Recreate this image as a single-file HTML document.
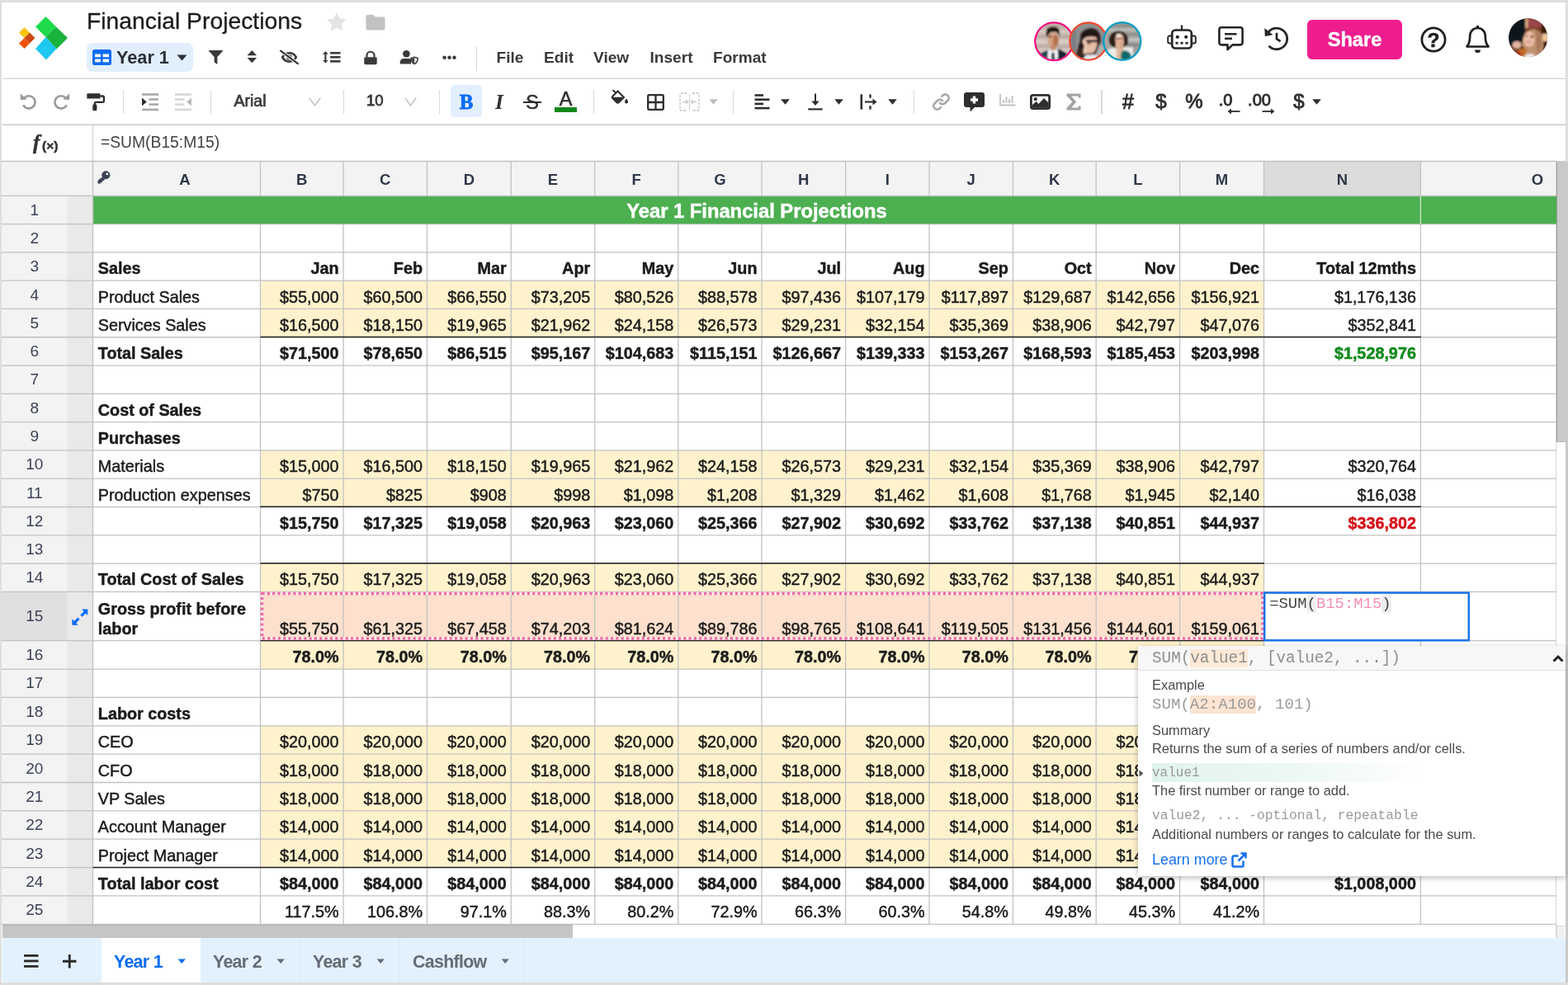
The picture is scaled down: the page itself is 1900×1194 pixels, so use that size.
<!DOCTYPE html>
<html lang="en"><head><meta charset="utf-8"><title>Financial Projections</title>
<style>
html,body{margin:0;padding:0}
body{width:1900px;height:1194px;overflow:hidden;background:#dedede;position:relative;
 font-family:"Liberation Sans",sans-serif;color:#1b1b1b}
.a{position:absolute}
.t{position:absolute;white-space:nowrap;line-height:1}
.b{font-weight:bold}
svg{position:absolute;overflow:visible}
.sep{position:absolute;width:1px;background:#d9d9d9}
.menu{position:absolute;top:60px;font-size:19.100px;font-weight:bold;color:#3a3a3a;line-height:20px;white-space:nowrap}
.c{position:absolute;font-size:19.800px;line-height:22px;white-space:nowrap;-webkit-text-stroke:0.450px currentColor}
.r{text-align:right}
.hl{position:absolute;height:1px;background:#c6c6c6}
.vl{position:absolute;width:1px;background:#c6c6c6}
.rn{position:absolute;left:2.800px;width:78px;text-align:center;font-size:19px;color:#3b4256;line-height:22px}
.ch{position:absolute;top:206.500px;text-align:center;font-size:18.5px;font-weight:bold;color:#2f3749;line-height:22px}
.tab{position:absolute;top:1153.500px;font-size:21.400px;font-weight:bold;color:#5f6670;line-height:24px;white-space:nowrap;letter-spacing:-0.700px}
.mono{font-family:"Liberation Mono","DejaVu Sans Mono",monospace}
</style></head><body>
<div class="a" style="left:2px;top:3px;width:1895px;height:1188px;background:#fff"></div>

<svg style="left:0;top:0" width="1900" height="200" viewBox="0 0 1900 200"><line x1="3" x2="1897" y1="95.300" y2="95.300" stroke="#d9d9d9" stroke-width="1.400"/><line x1="3" x2="1897" y1="151.200" y2="151.200" stroke="#cacaca" stroke-width="1.500"/></svg>
<svg style="left:20px;top:18px" width="66" height="58" viewBox="0 0 66 58">
<polygon points="35.5,2 48,14.5 35.5,27 23,14.5" fill="#1fdb4c"/>
<polygon points="48,14.5 62,28 48.5,41.5 35.5,27" fill="#19b23c"/>
<polygon points="35.5,27 48.5,41 36,54.5 23,41" fill="#1ec8f0"/>
<polygon points="9.5,15 16,21.5 9.5,28 3,21.5" fill="#f8c40e"/>
<polygon points="16,21.5 22.5,28 16,34.5 9.5,28" fill="#c84a12"/>
<polygon points="9.5,28 16,34.5 9.5,41 3,34.5" fill="#f0520f"/>
</svg>
<div class="t" style="left:105px;top:9px;font-size:28.300px;line-height:32px;color:#1c1c1c;-webkit-text-stroke:0.300px #1c1c1c">Financial Projections</div>
<svg style="left:395px;top:14px" width="26" height="25" viewBox="0 0 24 23"><path d="M12 0.8l3.3 7 7.6 1-5.6 5.3 1.4 7.6L12 18l-6.7 3.7 1.4-7.6L1.1 8.8l7.6-1z" fill="#e4e4e4"/></svg>
<svg style="left:442.500px;top:17.500px" width="24" height="18.500" viewBox="0 0 25 20"><path d="M2.5 0h7l2.6 2.8h10.4A2.5 2.5 0 0 1 25 5.3v12.2A2.5 2.5 0 0 1 22.5 20h-20A2.5 2.5 0 0 1 0 17.5v-15A2.5 2.5 0 0 1 2.500 0z" fill="#c1c1c1"/></svg>
<div class="a" style="left:105px;top:52px;width:129px;height:35px;border-radius:7px;background:#e1effd"></div>
<svg style="left:112px;top:60px" width="23" height="19" viewBox="0 0 23 19"><rect x="0" y="0" width="23" height="19" rx="2.5" fill="#0b6cf5"/>
<rect x="3" y="5.5" width="7" height="3.7" fill="#fff"/><rect x="12.6" y="5.5" width="7.4" height="3.7" fill="#fff"/>
<rect x="3" y="11.6" width="7" height="3.7" fill="#fff"/><rect x="12.6" y="11.6" width="7.400" height="3.7" fill="#fff"/></svg>
<div class="t b" style="left:141px;top:57.500px;font-size:21.700px;line-height:24px;color:#2b2f36">Year 1</div>
<svg style="left:214px;top:66px" width="13" height="8" viewBox="0 0 13 8"><path d="M0.5 0.5h12L6.5 7.5z" fill="#2b2f36"/></svg>
<svg style="left:252.700px;top:60.500px" width="17" height="16.800" viewBox="0 0 18 17" preserveAspectRatio="none"><path d="M0.6 0h16.8c.6 0 .8.6.4 1L11 8v8.2c0 .6-.6.9-1 .6l-2.600-2c-.3-.2-.4-.4-.4-.7V8L.2 1C-.2.600 0 0 .6 0z" fill="#3a3a3a"/></svg>
<svg style="left:299px;top:60.500px" width="12.600" height="15.800" viewBox="0 0 13 17" preserveAspectRatio="none"><path d="M6.5 0l6 6.700h-12zM6.500 16.500l6-6.700h-12z" fill="#3a3a3a"/></svg>
<svg style="left:339.300px;top:60.800px" width="23" height="16.800" viewBox="0 0 25 19" preserveAspectRatio="none">
<path d="M3.500 9.500C5.500 5.400 8.700 3.600 12.500 3.600s7 1.800 9 5.900c-2 4.100-5.200 5.900-9 5.900s-7-1.800-9-5.900z" fill="none" stroke="#3a3a3a" stroke-width="2.900"/>
<circle cx="12.500" cy="9.500" r="3.600" fill="#3a3a3a"/>
<path d="M1.200 0.800L23.800 18.200" stroke="#fff" stroke-width="4.600"/>
<path d="M1.200 0.800L23.800 18.200" stroke="#3a3a3a" stroke-width="2.600" stroke-linecap="round"/>
</svg>
<svg style="left:390.500px;top:62.200px" width="22" height="14.500" viewBox="0 0 23 16" preserveAspectRatio="none">
<path d="M3.500 0L7 4H4.600v8H7l-3.500 4L0 12h2.400V4H0z" fill="#3a3a3a"/>
<rect x="9.500" y="1" width="13" height="2.900" fill="#3a3a3a"/><rect x="9.500" y="6.600" width="13" height="2.900" fill="#3a3a3a"/><rect x="9.500" y="12.200" width="13" height="2.900" fill="#3a3a3a"/></svg>
<svg style="left:441px;top:61.500px" width="16" height="16.500" viewBox="0 0 17 18" preserveAspectRatio="none">
<path d="M3.700 8V5.600a4.800 4.800 0 0 1 9.600 0V8" fill="none" stroke="#3a3a3a" stroke-width="2.400"/>
<rect x="0.300" y="7.800" width="16.400" height="10" rx="1.600" fill="#3a3a3a"/></svg>
<svg style="left:484.400px;top:61.200px" width="23.200" height="16.800" viewBox="0 0 24 18" preserveAspectRatio="none">
<circle cx="8.700" cy="4.600" r="4.500" fill="#3a3a3a"/>
<path d="M0.800 17.600v-2.400c0-2.600 2-4.400 4.500-4.400h6.500c1 0 1.900.3 2.700.9v5.900z" fill="#3a3a3a"/>
<path d="M18.800 8.800l4.200 1.400c0 3.600-1.300 6.100-4.200 7.400-2.900-1.300-4.200-3.800-4.200-7.400z" fill="#fff" stroke="#3a3a3a" stroke-width="1.700"/>
<path d="M18.800 9.700v7c-2.200-1.100-3.300-3.100-3.300-5.800z" fill="#3a3a3a"/>
</svg>
<svg style="left:536.300px;top:66.500px" width="17" height="5.500" viewBox="0 0 18 6" preserveAspectRatio="none"><circle cx="2.700" cy="3" r="2.400" fill="#3a3a3a"/><circle cx="9" cy="3" r="2.400" fill="#3a3a3a"/><circle cx="15.300" cy="3" r="2.400" fill="#3a3a3a"/></svg>
<div class="sep" style="left:577px;top:56px;height:30px"></div>
<div class="menu" style="left:601.5px">File</div>
<div class="menu" style="left:659px">Edit</div>
<div class="menu" style="left:719px">View</div>
<div class="menu" style="left:787.5px">Insert</div>
<div class="menu" style="left:864px">Format</div>
<svg style="left:1253px;top:26px" width="48.500" height="48.500" viewBox="0 0 48.500 48.500">
<defs><clipPath id="av1"><circle cx="24.250" cy="24.250" r="21.800"/></clipPath>
<filter id="bl" x="-20%" y="-20%" width="140%" height="140%"><feGaussianBlur stdDeviation="0.850"/></filter>
<filter id="bl3" x="-20%" y="-20%" width="140%" height="140%"><feGaussianBlur stdDeviation="0.500"/></filter></defs>
<circle cx="24.250" cy="24.250" r="24.100" fill="#f2087f"/>
<g clip-path="url(#av1)"><rect width="49" height="49" fill="#c9bbb2"/>
<g filter="url(#bl)">
<rect x="0" y="4" width="49" height="3.500" fill="#b8aaa2"/><rect x="0" y="11" width="49" height="3" fill="#d6cbc4"/>
<rect x="0" y="17" width="49" height="2.500" fill="#b3a398"/><rect x="0" y="22.500" width="49" height="4" fill="#d9cfc9"/>
<rect x="0" y="29" width="49" height="2.500" fill="#b9aaa1"/><rect x="0" y="33" width="49" height="3" fill="#d4c8c1"/>
<g transform="translate(-2.800,-2.300)"><path d="M8 49c1-7 4-9 12-12.500l6 3 6-4c7 2 12 6 13 13.500z" fill="#14222e"/>
<path d="M8 49c1-6 3-8 10-11.500l2 11.500z" fill="#1d4452"/>
<path d="M19.500 36l6 2 6-2.500 .500 13.500H19z" fill="#f2f4f8"/>
<path d="M24 40h3.300l.700 9h-4.600z" fill="#1c2b38"/>
<ellipse cx="26" cy="24.500" rx="6.800" ry="9" fill="#d6a184"/>
<ellipse cx="29" cy="25.500" rx="3.300" ry="7" fill="#b46f4b"/>
<rect x="23" y="31" width="6.500" height="6" fill="#c48a68"/>
<path d="M17.500 19c-1-7 2.500-10.500 8.500-10.500s9 4 7.500 12c-1-4-2.500-5.500-7-5.500-3.500 0-6 1-7 6z" fill="#1a1210"/>
<ellipse cx="22.500" cy="20.500" rx="2" ry="1.200" fill="#6b4a3a"/>
</g><rect x="6" y="44" width="38" height="5" fill="#14222e"/><rect x="17" y="44" width="11" height="5" fill="#f2f4f8"/><rect x="21.300" y="44" width="4" height="5" fill="#1c2b38"/>
</g></g></svg>
<svg style="left:1295px;top:26px" width="47.500" height="48" viewBox="0 0 47.500 47.500" preserveAspectRatio="none">
<defs><clipPath id="av2"><circle cx="23.750" cy="23.750" r="21.300"/></clipPath></defs>
<circle cx="23.750" cy="23.750" r="23.600" fill="#f5482c"/>
<g clip-path="url(#av2)"><rect width="48" height="48" fill="#8f8f90"/>
<g filter="url(#bl)">
<rect x="2" y="3" width="7" height="42" fill="#7d7f83"/>
<rect x="31" y="28" width="15" height="14" fill="#b3b1ae"/>
<path d="M9 48c-1-8 1-14 4-19 1-9 3-16 8-19 6-3.500 13-2 16 4 2 4 2 8 1 12l-4 10-6 12z" fill="#2b1d1c"/>
<path d="M18 20c3-2 9-2.500 14-1.500 2.500 1 3 6 2 11-1 5-4 9-8 10.500-4 0-7-2-8-6z" fill="#e6bea8"/>
<path d="M17 24.500c0-4 1-6 3-7l1.500 20-3.500 2z" fill="#f0cdb8"/>
<path d="M14 17c2-6 8-9 14-8 5 1 8 5 9 10-5-1.500-11-2-16 0-2 1-4 3-5 6z" fill="#241717"/>
<path d="M21 23.500h15" stroke="#2e2026" stroke-width="3"/>
<ellipse cx="24.500" cy="26.300" rx="2.200" ry="1.300" fill="#7a5240"/>
<path d="M12 27c2-1 5-1 6.500 0v6H12z" fill="#241615"/>
<path d="M9 48c-1-8 1-13 3-17l6 4c-1 4-1 8 0 13z" fill="#3b2520"/>
<path d="M17 48c1-5 3-8 7-9l9 1c2 2 3 5 3 8z" fill="#e9ebef"/>
<path d="M22 37.500c2 1 5 1 7-.500l-1 3h-5z" fill="#6e4630"/>
</g></g></svg>
<svg style="left:1335.700px;top:26px" width="47.500" height="48" viewBox="0 0 47.500 47.500" preserveAspectRatio="none">
<defs><clipPath id="av3"><circle cx="23.750" cy="23.750" r="21.300"/></clipPath></defs>
<circle cx="23.750" cy="23.750" r="23.700" fill="#0c9fc1"/>
<g clip-path="url(#av3)"><rect width="48" height="48" fill="#a7a6a1"/>
<g filter="url(#bl)">
<rect x="0" y="3" width="48" height="4" fill="#8f8e89"/><rect x="6" y="8.500" width="42" height="3" fill="#bcbbb6"/>
<rect x="28" y="14" width="20" height="3.500" fill="#8d8d8a"/><rect x="30" y="20" width="18" height="4" fill="#bfbfbd"/>
<rect x="30" y="26.500" width="18" height="3.500" fill="#85888a"/>
<path d="M6 48V34c4-2 10-3 16-3h14l3 3v14z" fill="#ebebe8"/>
<rect x="37" y="30" width="11" height="12" fill="#9b9b99"/>
<ellipse cx="19.500" cy="22" rx="11.500" ry="10.500" fill="#2a1a16"/>
<ellipse cx="26" cy="24" rx="5" ry="6" fill="#2e1d18"/>
<ellipse cx="20.500" cy="21.500" rx="5.200" ry="7" fill="#e0b39b"/>
<ellipse cx="19.500" cy="17" rx="3" ry="2.300" fill="#f3dccf"/>
<path d="M16.500 20.500h8" stroke="#5a3a30" stroke-width="1.200"/>
<path d="M16 24c3-2 8-2 10 0l-1 6c1 4 0 10-1 18h-7c0-8 0-13-1-17z" fill="#e2b59a"/>
<path d="M22 25c1 3 1 5-1 7" stroke="#b98366" stroke-width="1.200" fill="none"/>
<path d="M23 36c4-2 8-1 11 3l3 9H23c-1-4-1-8 0-12z" fill="#0e6b66"/>
</g></g></svg>
<svg style="left:1414px;top:30.300px" width="36" height="30" viewBox="0 0 36 30" fill="none" stroke="#262626" stroke-width="2.700">
<path d="M18 0.500v6" stroke-width="2.300"/>
<rect x="6.200" y="6.500" width="23.600" height="22" rx="4"/>
<path d="M5.500 13.500H3.200a2 2 0 0 0-2 2v5a2 2 0 0 0 2 2h2.300M30.500 13.500h2.300a2 2 0 0 1 2 2v5a2 2 0 0 1-2 2h-2.300" stroke-width="1.900"/>
<circle cx="12.800" cy="14.800" r="2.100" fill="#262626" stroke="none"/><circle cx="23.200" cy="14.800" r="2.100" fill="#262626" stroke="none"/>
<rect x="10.500" y="20.800" width="3" height="2.800" fill="#262626" stroke="none"/><rect x="16.500" y="20.800" width="3" height="2.800" fill="#262626" stroke="none"/><rect x="22.500" y="20.800" width="3" height="2.800" fill="#262626" stroke="none"/>
</svg>
<svg style="left:1476px;top:31.500px" width="31" height="30" viewBox="0 0 31 30" fill="none" stroke="#262626" stroke-width="2.600" stroke-linejoin="round">
<path d="M4 1.200h23a2.600 2.600 0 0 1 2.600 2.600v16a2.600 2.600 0 0 1-2.600 2.600H17.500L11.500 28v-5.600H4a2.600 2.600 0 0 1-2.600-2.600v-16A2.600 2.600 0 0 1 4 1.200z"/>
<path d="M8 9.300h14.500M8 14.800h9" stroke-width="2.600"/></svg>
<svg style="left:1532.300px;top:32px" width="30" height="30" viewBox="0 0 30 30" fill="none" stroke="#262626" stroke-width="2.800">
<path d="M3.800 8.600A12.800 12.800 0 1 1 5.500 23.600"/>
<path d="M0.300 2l0.500 10 9.600-1.700z" fill="#262626" stroke="none"/>
<path d="M15 7.800v7.400l4.600 3" stroke-width="2.700"/></svg>
<div class="a" style="left:1584px;top:24px;width:115px;height:48px;border-radius:6px;background:#ee1d8e"></div>
<div class="t b" style="left:1584px;top:35px;width:115px;text-align:center;font-size:23.600px;line-height:26px;color:#fff;-webkit-text-stroke:0.400px #fff">Share</div>
<svg style="left:1721px;top:32px" width="32" height="32" viewBox="0 0 32 32"><circle cx="16" cy="16" r="14.100" fill="none" stroke="#1f1f1f" stroke-width="2.800"/></svg>
<div class="t b" style="left:1721px;top:35.500px;width:32px;text-align:center;font-size:24.500px;line-height:26px;color:#1f1f1f;-webkit-text-stroke:0.600px #1f1f1f">?</div>
<svg style="left:1776px;top:29.500px" width="29" height="35" viewBox="0 0 29 35" fill="none" stroke="#1f1f1f" stroke-width="2.700" stroke-linejoin="round">
<path d="M14.500 1v3" stroke-width="3.200"/>
<path d="M1.500 26.500c3-3.500 3.700-6.500 3.700-12.500 0-6 4-10 9.300-10s9.300 4 9.300 10c0 6 .7 9 3.700 12.500z"/>
<path d="M11 30.500h7a3.500 3.500 0 0 1-7 0z" fill="#1f1f1f" stroke="none"/></svg>
<svg style="left:1828.300px;top:22.400px" width="47.400" height="47.400" viewBox="0 0 47.400 47.400">
<defs><clipPath id="av4"><circle cx="23.700" cy="23.700" r="23.500"/></clipPath><filter id="bl2" x="-20%" y="-20%" width="140%" height="140%"><feGaussianBlur stdDeviation="1.100"/></filter></defs>
<g clip-path="url(#av4)"><rect width="48" height="48" fill="#7a4028"/>
<g filter="url(#bl2)">
<rect x="-2" y="-2" width="22" height="36" fill="#0f181f"/>
<rect x="21" y="-2" width="22" height="13" fill="#9a4448"/>
<rect x="40" y="6" width="10" height="36" fill="#3a1a0c"/>
<rect x="41" y="19" width="8" height="9" fill="#efc59b"/>
<rect x="20.500" y="1" width="3" height="11" fill="#d9b28a"/>
<path d="M17 50c-2-10-2-22 3-31 3-5 9-7 14-5 6 3 8 10 8 18s-1 13-3 18z" fill="#c09270"/>
<path d="M33 14c4 2 7 8 7 16l-2 12-4-2z" fill="#a8775a"/>
<ellipse cx="25" cy="25.500" rx="6.800" ry="9.500" fill="#ebbca4"/>
<ellipse cx="28.500" cy="22.500" rx="2" ry="1.300" fill="#5a3320"/><ellipse cx="21.500" cy="21.500" rx="1.800" ry="1" fill="#8a5a40"/>
<ellipse cx="24" cy="29" rx="2.500" ry="1.200" fill="#d98f84"/>
<path d="M13 26c1 4 3 8 6 10l-2 3c-3-2-5-6-5-10z" fill="#40231a"/>
<ellipse cx="10" cy="32.500" rx="5.500" ry="4.500" fill="#e2b4a2"/>
<path d="M11 40c3-3 7-4 11-3l-2 8-8 1z" fill="#c26a22"/>
<path d="M10 42c2-1 4-1 5 1l-1 3h-4z" fill="#b01c10"/>
<path d="M18 50c1-5 4-7 8-7s7 2 8 7z" fill="#f2e6e0"/>
</g></g></svg>
<svg style="left:24px;top:112.300px" width="21" height="21" viewBox="0 0 21 21">
<path d="M5.300 6.800A7.600 7.600 0 1 1 4.200 15.300" fill="none" stroke="#9b9b9b" stroke-width="2.700"/>
<path d="M0.600 1.200L1 9.200 8.600 8.400z" fill="#9b9b9b"/></svg>
<svg style="left:63.500px;top:112.300px" width="21" height="21" viewBox="0 0 21 21">
<path d="M15.700 6.800A7.600 7.600 0 1 0 16.800 15.300" fill="none" stroke="#9b9b9b" stroke-width="2.700"/>
<path d="M20.400 1.200L20 9.200 12.400 8.400z" fill="#9b9b9b"/></svg>
<svg style="left:105px;top:112.500px" width="23" height="22" viewBox="0 0 23 22">
<rect x="0.300" y="0.300" width="16.200" height="6.300" rx="1.200" fill="#2e2e2e"/>
<path d="M16.500 3.500h2.800a1.600 1.600 0 0 1 1.600 1.600v4.100a1.600 1.600 0 0 1-1.600 1.600h-7.900a1.500 1.500 0 0 0-1.500 1.500v2" fill="none" stroke="#2e2e2e" stroke-width="2.300"/>
<rect x="7.300" y="13.300" width="5.100" height="8" rx="1.600" fill="#2e2e2e"/></svg>
<div class="sep" style="left:149px;top:109px;height:29px"></div>
<svg style="left:172px;top:113px" width="21" height="21" viewBox="0 0 21 21">
<rect x="0" y="0.200" width="20" height="2.600" fill="#a8a8a8"/><rect x="0" y="18.600" width="20" height="2.600" fill="#a8a8a8"/>
<rect x="8.500" y="6.200" width="11.500" height="2.600" fill="#a8a8a8"/><rect x="8.500" y="12.300" width="11.500" height="2.600" fill="#a8a8a8"/>
<path d="M0 5.600l5.800 4.900-5.800 4.900z" fill="#2e2e2e"/></svg>
<svg style="left:212px;top:113px" width="21" height="21" viewBox="0 0 21 21">
<rect x="0" y="0.200" width="20" height="2.600" fill="#d6d6d6"/><rect x="0" y="18.600" width="20" height="2.600" fill="#d6d6d6"/>
<rect x="0" y="6.200" width="11.500" height="2.600" fill="#d6d6d6"/><rect x="0" y="12.300" width="11.500" height="2.600" fill="#d6d6d6"/>
<path d="M20 5.600l-5.800 4.900 5.800 4.900z" fill="#b8b8b8"/></svg>
<div class="sep" style="left:255px;top:109px;height:29px"></div>
<div class="t" style="left:283.500px;top:112px;font-size:19.500px;line-height:20px;color:#3a3a3a;-webkit-text-stroke:0.700px #3a3a3a">Arial</div>
<svg style="left:374px;top:118px" width="15" height="11" viewBox="0 0 15 11"><path d="M0.700 0.700l6.800 9 6.800-9" fill="none" stroke="#c4c4c4" stroke-width="1.500"/></svg>
<div class="sep" style="left:416px;top:109px;height:29px"></div>
<div class="t" style="left:444px;top:112px;font-size:18.600px;line-height:20px;color:#3a3a3a;-webkit-text-stroke:0.800px #3a3a3a">10</div>
<svg style="left:490px;top:118px" width="15" height="11" viewBox="0 0 15 11"><path d="M0.700 0.700l6.800 9 6.800-9" fill="none" stroke="#c4c4c4" stroke-width="1.500"/></svg>
<div class="sep" style="left:532px;top:109px;height:29px"></div>
<div class="a" style="left:546px;top:103px;width:38px;height:39px;border-radius:5px;background:#e2effd"></div>
<div class="t b" style="left:546px;top:111px;width:38px;text-align:center;font-family:'Liberation Serif',serif;font-size:25px;line-height:26px;color:#0b6cf5;-webkit-text-stroke:0.800px #0b6cf5">B</div>
<div class="t b" style="left:593px;top:111px;width:24px;text-align:center;font-family:'Liberation Serif',serif;font-style:italic;font-size:25.500px;line-height:26px;color:#2e2e2e">I</div>
<div class="t" style="left:633px;top:111px;width:24px;text-align:center;font-size:24px;line-height:26px;color:#2e2e2e;-webkit-text-stroke:0.400px #2e2e2e">S</div>
<div class="a" style="left:634px;top:122.500px;width:22px;height:2px;background:#2e2e2e"></div>
<div class="t" style="left:673px;top:107px;width:25px;text-align:center;font-size:23.500px;line-height:26px;color:#2e2e2e;-webkit-text-stroke:0.500px #2e2e2e">A</div>
<div class="a" style="left:672px;top:130px;width:27px;height:5.500px;background:#13881a"></div>
<div class="sep" style="left:719px;top:109px;height:29px"></div>
<svg style="left:740px;top:108px" width="22" height="19" viewBox="0 0 22 19">
<path d="M2.500 1l3.500 3.500" stroke="#2e2e2e" stroke-width="1.800" fill="none"/>
<path d="M8.500 2.500l7.500 7.500-6 6a2 2 0 0 1-2.800 0l-4.700-4.700a2 2 0 0 1 0-2.800z" fill="none" stroke="#2e2e2e" stroke-width="2"/>
<path d="M2.500 9.800h13l-5.800 5.800a2 2 0 0 1-2.800 0l-4.400-4.400z" fill="#2e2e2e"/>
<path d="M19 11.500c1.300 1.900 2 3 2 3.900a2 2 0 0 1-4 0c0-.9.700-2 2-3.900z" fill="#2e2e2e"/></svg>
<svg style="left:784px;top:114px" width="21" height="20" viewBox="0 0 21 20" fill="none" stroke="#2e2e2e" stroke-width="2.300">
<rect x="1.200" y="1.200" width="18.600" height="17.600" rx="1"/><path d="M10.500 1v18M1 10h19"/></svg>
<svg style="left:823px;top:112px" width="25" height="23" viewBox="0 0 25 23" fill="none" stroke="#bdbdbd" stroke-width="1.300">
<path d="M9 1H2.500A1.500 1.500 0 0 0 1 2.500v18A1.500 1.500 0 0 0 2.500 22H9M16 1h6.500A1.500 1.500 0 0 1 24 2.500v18a1.500 1.500 0 0 1-1.500 1.500H16" stroke-dasharray="3 1.500"/>
<path d="M12.500 1.500v20" stroke="#d4d4d4"/>
<path d="M4 11.500h6M8 9l2.500 2.500L8 14M21 11.500h-6M17 9l-2.500 2.500L17 14" stroke="#c9c9c9"/></svg>
<svg style="left:859px;top:120px" width="11" height="7" viewBox="0 0 11 7"><path d="M0.200 0.300h10.600L5.500 6.800z" fill="#bdbdbd"/></svg>
<div class="sep" style="left:888px;top:109px;height:29px"></div>
<svg style="left:914px;top:114px" width="19" height="19" viewBox="0 0 19 19">
<rect x="0.500" y="0.200" width="10.500" height="2.600" fill="#2e2e2e"/><rect x="0.500" y="5.400" width="18" height="2.600" fill="#2e2e2e"/>
<rect x="0.500" y="10.600" width="10.500" height="2.600" fill="#2e2e2e"/><rect x="0.500" y="15.800" width="18" height="2.600" fill="#2e2e2e"/></svg>
<svg style="left:946px;top:120px" width="11" height="7" viewBox="0 0 11 7"><path d="M0.200 0.300h10.600L5.500 6.800z" fill="#2e2e2e"/></svg>
<svg style="left:979px;top:113px" width="18" height="21" viewBox="0 0 18 21">
<path d="M9 0.500v13.500" stroke="#2e2e2e" stroke-width="2" fill="none"/><path d="M4.300 9.500L9 15l4.700-5.500z" fill="#2e2e2e"/>
<rect x="0.300" y="18.300" width="17.400" height="2.200" fill="#2e2e2e"/></svg>
<svg style="left:1011px;top:120px" width="11" height="7" viewBox="0 0 11 7"><path d="M0.200 0.300h10.600L5.500 6.800z" fill="#2e2e2e"/></svg>
<svg style="left:1042px;top:114px" width="21" height="19" viewBox="0 0 21 19">
<rect x="0.500" y="0.300" width="2.600" height="18.400" fill="#2e2e2e"/>
<rect x="11.300" y="0.300" width="2.400" height="4.500" fill="#2e2e2e"/><rect x="11.300" y="14.200" width="2.400" height="4.500" fill="#2e2e2e"/>
<path d="M6 9.500h12" stroke="#2e2e2e" stroke-width="2.100" fill="none"/><path d="M15.500 5.500l5 4-5 4z" fill="#2e2e2e"/></svg>
<svg style="left:1076px;top:120px" width="11" height="7" viewBox="0 0 11 7"><path d="M0.200 0.300h10.600L5.500 6.800z" fill="#2e2e2e"/></svg>
<div class="sep" style="left:1107px;top:109px;height:29px"></div>
<svg style="left:1130px;top:113px" width="21" height="21" viewBox="0 0 21 21" fill="none" stroke="#a9a9a9" stroke-width="2.700" stroke-linecap="round">
<path d="M9 12a4.300 4.300 0 0 0 6.100 0l3.300-3.300a4.300 4.300 0 0 0-6.100-6.100l-1.300 1.300"/>
<path d="M12 9a4.300 4.300 0 0 0-6.100 0l-3.300 3.300a4.300 4.300 0 0 0 6.100 6.100l1.300-1.300"/></svg>
<svg style="left:1168px;top:112px" width="25" height="24" viewBox="0 0 25 24">
<path d="M3 0h19a3 3 0 0 1 3 3v12a3 3 0 0 1-3 3H13l-5.500 5.500V18H3a3 3 0 0 1-3-3V3a3 3 0 0 1 3-3z" fill="#2e2e2e"/>
<path d="M12.500 4.500v9M8 9h9" stroke="#fff" stroke-width="3.400" fill="none"/></svg>
<svg style="left:1211px;top:114px" width="20" height="15" viewBox="0 0 20 15" fill="none" stroke="#c2c2c2">
<path d="M1 0v13.500h18.500" stroke-width="1.800"/><path d="M5 11V7M8.500 11V3.500M12 11V6M15.500 11V2" stroke-width="2"/></svg>
<svg style="left:1248px;top:114px" width="25" height="19" viewBox="0 0 25 19">
<rect x="1.400" y="1.400" width="22.200" height="16.200" rx="2" fill="none" stroke="#2e2e2e" stroke-width="2.800"/>
<circle cx="6.800" cy="6.200" r="2.100" fill="#2e2e2e"/><path d="M2.500 16.500v-3l5-4.500 3 3 6.500-7 5.500 5.500v6z" fill="#2e2e2e"/></svg>
<svg style="left:1292px;top:113px" width="18" height="21" viewBox="0 0 18 21"><path d="M0.500 0.500h17v5h-2.800V3.500H6.200l6 7-6 7h8.500v-2h2.800v5h-17v-2.500l6.800-7.500L0.500 3z" fill="#a3a3a3"/></svg>
<div class="sep" style="left:1334px;top:109px;height:29px;width:1.500px"></div>
<div class="t" style="left:1352px;top:110px;width:30px;text-align:center;font-size:25px;line-height:26px;color:#2e2e2e;-webkit-text-stroke:0.850px #2e2e2e;">#</div>
<div class="t" style="left:1392px;top:110px;width:30px;text-align:center;font-size:24px;line-height:26px;color:#2e2e2e;-webkit-text-stroke:0.850px #2e2e2e;">$</div>
<div class="t" style="left:1432px;top:110px;width:30px;text-align:center;font-size:24px;line-height:26px;color:#2e2e2e;-webkit-text-stroke:0.850px #2e2e2e;">%</div>
<div class="t" style="left:1474px;top:108px;width:22px;text-align:center;font-size:20px;line-height:26px;color:#2e2e2e;-webkit-text-stroke:0.850px #2e2e2e;">.0</div>
<svg style="left:1487px;top:131px" width="16" height="8" viewBox="0 0 16 8"><path d="M15.500 4H2" stroke="#2e2e2e" stroke-width="1.800" fill="none"/><path d="M5 0.500L0.500 4 5 7.500z" fill="#2e2e2e"/></svg>
<div class="t" style="left:1510px;top:108px;width:32px;text-align:center;font-size:20px;line-height:26px;color:#2e2e2e;-webkit-text-stroke:0.850px #2e2e2e;">.00</div>
<svg style="left:1529px;top:131px" width="16" height="8" viewBox="0 0 16 8"><path d="M0.500 4H14" stroke="#2e2e2e" stroke-width="1.800" fill="none"/><path d="M11 0.500L15.500 4 11 7.500z" fill="#2e2e2e"/></svg>
<div class="t" style="left:1559px;top:110px;width:30px;text-align:center;font-size:24px;line-height:26px;color:#2e2e2e;-webkit-text-stroke:0.850px #2e2e2e;">$</div>
<svg style="left:1590px;top:120px" width="11" height="7" viewBox="0 0 11 7"><path d="M0.200 0.300h10.600L5.500 6.800z" fill="#2e2e2e"/></svg>
<div class="a" style="left:3px;top:195px;width:1894px;height:1px;background:#c9c9c9"></div>
<div class="a" style="left:112px;top:152px;width:1px;height:44px;background:#cfcfcf"></div>
<div class="t b" style="left:40px;top:158.500px;font-family:'Liberation Serif',serif;font-style:italic;font-size:25px;line-height:28px;color:#333;-webkit-text-stroke:0.500px #333">f</div>
<div class="t b" style="left:51px;top:167.500px;font-size:15.500px;line-height:18px;color:#333;-webkit-text-stroke:0.500px #333">(×)</div>
<div class="t" style="left:122px;top:162px;font-size:19.300px;line-height:22px;color:#444">=SUM(B15:M15)</div>
<svg style="left:0;top:0" width="1900" height="1194" viewBox="0 0 1900 1194"><rect x="2" y="196" width="1884" height="41.3" fill="#f3f3f3"/><rect x="2" y="237.3" width="110.5" height="883" fill="#f3f3f3"/><rect x="81.5" y="237.3" width="31" height="883" fill="#e9e9e9"/><rect x="1531.5" y="196" width="189.9" height="41.3" fill="#dcdcdc"/><rect x="2" y="717.36" width="79.5" height="59.34" fill="#e0e0e0"/><rect x="315.5" y="340.17" width="1216" height="34.29" fill="#fff2cc"/><rect x="315.5" y="374.46" width="1216" height="34.29" fill="#fff2cc"/><rect x="315.5" y="545.91" width="1216" height="34.29" fill="#fff2cc"/><rect x="315.5" y="580.2" width="1216" height="34.29" fill="#fff2cc"/><rect x="315.5" y="683.07" width="1216" height="34.29" fill="#fff2cc"/><rect x="315.5" y="776.7" width="1216" height="34.36" fill="#fff2cc"/><rect x="315.5" y="879.78" width="1216" height="34.36" fill="#fff2cc"/><rect x="315.5" y="914.14" width="1216" height="34.36" fill="#fff2cc"/><rect x="315.5" y="948.5" width="1216" height="34.36" fill="#fff2cc"/><rect x="315.5" y="982.86" width="1216" height="34.36" fill="#fff2cc"/><rect x="315.5" y="1017.22" width="1216" height="34.36" fill="#fff2cc"/><rect x="315.5" y="717.36" width="1216" height="59.34" fill="#fde0cd"/><g stroke="#c2c2c2" stroke-width="1.3"><line x1="2" x2="1886" y1="195.500" y2="195.500"/><line x1="2" x2="1886" y1="237.3" y2="237.3"/><line x1="2" x2="1886" y1="271.59" y2="271.59"/><line x1="2" x2="1886" y1="305.88" y2="305.88"/><line x1="2" x2="1886" y1="340.17" y2="340.17"/><line x1="2" x2="1886" y1="374.46" y2="374.46"/><line x1="2" x2="1886" y1="408.75" y2="408.75"/><line x1="2" x2="1886" y1="443.04" y2="443.04"/><line x1="2" x2="1886" y1="477.33" y2="477.33"/><line x1="2" x2="1886" y1="511.62" y2="511.62"/><line x1="2" x2="1886" y1="545.91" y2="545.91"/><line x1="2" x2="1886" y1="580.2" y2="580.2"/><line x1="2" x2="1886" y1="614.49" y2="614.49"/><line x1="2" x2="1886" y1="648.78" y2="648.78"/><line x1="2" x2="1886" y1="683.07" y2="683.07"/><line x1="2" x2="1886" y1="717.36" y2="717.36"/><line x1="2" x2="1886" y1="776.7" y2="776.7"/><line x1="2" x2="1886" y1="811.06" y2="811.06"/><line x1="2" x2="1886" y1="845.42" y2="845.42"/><line x1="2" x2="1886" y1="879.78" y2="879.78"/><line x1="2" x2="1886" y1="914.14" y2="914.14"/><line x1="2" x2="1886" y1="948.5" y2="948.5"/><line x1="2" x2="1886" y1="982.86" y2="982.86"/><line x1="2" x2="1886" y1="1017.22" y2="1017.22"/><line x1="2" x2="1886" y1="1051.58" y2="1051.58"/><line x1="2" x2="1886" y1="1085.94" y2="1085.94"/><line x1="2" x2="1886" y1="1120.3" y2="1120.3"/><line x1="112.5" x2="112.5" y1="196" y2="1120.3"/><line x1="315.5" x2="315.5" y1="196" y2="1120.3"/><line x1="416.1" x2="416.1" y1="196" y2="1120.3"/><line x1="517.5" x2="517.5" y1="196" y2="1120.3"/><line x1="619.3" x2="619.3" y1="196" y2="1120.3"/><line x1="720.7" x2="720.7" y1="196" y2="1120.3"/><line x1="821.8" x2="821.8" y1="196" y2="1120.3"/><line x1="923" x2="923" y1="196" y2="1120.3"/><line x1="1024.6" x2="1024.6" y1="196" y2="1120.3"/><line x1="1126" x2="1126" y1="196" y2="1120.3"/><line x1="1227.4" x2="1227.4" y1="196" y2="1120.3"/><line x1="1328.2" x2="1328.2" y1="196" y2="1120.3"/><line x1="1429.6" x2="1429.6" y1="196" y2="1120.3"/><line x1="1531.5" x2="1531.5" y1="196" y2="1120.3"/><line x1="1721.4" x2="1721.4" y1="196" y2="1120.3"/><line x1="1886" x2="1886" y1="196" y2="1120.3"/></g><rect x="113.1" y="238.1" width="1772.9" height="33.19" fill="#4caf50"/><line x1="1721.4" x2="1721.4" y1="237.8" y2="271.19" stroke="#d5ecd6" stroke-width="1.200"/><line x1="315.5" x2="1722" y1="408.55" y2="408.55" stroke="#222" stroke-width="1.500"/><line x1="315.5" x2="1722" y1="614.29" y2="614.29" stroke="#222" stroke-width="1.500"/><line x1="315.5" x2="1532.1" y1="682.87" y2="682.87" stroke="#222" stroke-width="1.500"/><line x1="315.5" x2="1532.1" y1="776.5" y2="776.5" stroke="#222" stroke-width="1.500"/><line x1="112.5" x2="1532.1" y1="1051.38" y2="1051.38" stroke="#222" stroke-width="1.500"/></svg>
<div class="ch" style="left:132.5px;width:183px">A</div>
<div class="ch" style="left:315.5px;width:100.6px">B</div>
<div class="ch" style="left:416.1px;width:101.4px">C</div>
<div class="ch" style="left:517.5px;width:101.8px">D</div>
<div class="ch" style="left:619.3px;width:101.4px">E</div>
<div class="ch" style="left:720.7px;width:101.1px">F</div>
<div class="ch" style="left:821.8px;width:101.2px">G</div>
<div class="ch" style="left:923px;width:101.6px">H</div>
<div class="ch" style="left:1024.6px;width:101.4px">I</div>
<div class="ch" style="left:1126px;width:101.4px">J</div>
<div class="ch" style="left:1227.4px;width:100.8px">K</div>
<div class="ch" style="left:1328.2px;width:101.4px">L</div>
<div class="ch" style="left:1429.6px;width:101.9px">M</div>
<div class="ch" style="left:1531.5px;width:189.9px">N</div>
<div class="ch" style="left:1840px;width:46px">O</div>
<svg style="left:118px;top:207px" width="16" height="16" viewBox="0 0 16 16"><g fill="#3b4256">
<circle cx="10.300" cy="5.300" r="5"/><path d="M6 7.500l3 3-1.500 1.500H6v2H4v1.500H0.500V12z"/></g><circle cx="11.800" cy="3.900" r="1.400" fill="#f3f3f3"/></svg>
<div class="rn" style="top:243.65px">1</div>
<div class="rn" style="top:277.94px">2</div>
<div class="rn" style="top:312.22px">3</div>
<div class="rn" style="top:346.52px">4</div>
<div class="rn" style="top:380.81px">5</div>
<div class="rn" style="top:415.09px">6</div>
<div class="rn" style="top:449.39px">7</div>
<div class="rn" style="top:483.68px">8</div>
<div class="rn" style="top:517.97px">9</div>
<div class="rn" style="top:552.26px">10</div>
<div class="rn" style="top:586.55px">11</div>
<div class="rn" style="top:620.84px">12</div>
<div class="rn" style="top:655.12px">13</div>
<div class="rn" style="top:689.41px">14</div>
<div class="rn" style="top:736.23px">15</div>
<div class="rn" style="top:783.08px">16</div>
<div class="rn" style="top:817.44px">17</div>
<div class="rn" style="top:851.8px">18</div>
<div class="rn" style="top:886.16px">19</div>
<div class="rn" style="top:920.52px">20</div>
<div class="rn" style="top:954.88px">21</div>
<div class="rn" style="top:989.24px">22</div>
<div class="rn" style="top:1023.6px">23</div>
<div class="rn" style="top:1057.96px">24</div>
<div class="rn" style="top:1092.32px">25</div>
<svg style="left:87px;top:738px" width="20" height="20" viewBox="0 0 20 20"><g fill="#0b6cf5">
<path d="M19.300 0.600V8L12 0.600z"/><path d="M0.400 19.700V12.300L7.700 19.700z"/>
<path d="M16.200 3.800L11.400 8.600M3.600 16.500L8.400 11.700" stroke="#0b6cf5" stroke-width="3.200" fill="none"/></g></svg>
<div class="c b" style="left:112.5px;width:1608.9px;top:242.8px;text-align:center;font-size:23.750px;line-height:26px;color:#fff">Year 1 Financial Projections</div>
<div class="c b" style="top:314.27px;left:118.8px;">Sales</div>
<div class="c" style="top:348.56px;left:118.8px;">Product Sales</div>
<div class="c" style="top:382.85px;left:118.8px;">Services Sales</div>
<div class="c b" style="top:417.14px;left:118.8px;">Total Sales</div>
<div class="c b" style="top:485.72px;left:118.8px;">Cost of Sales</div>
<div class="c b" style="top:520.01px;left:118.8px;">Purchases</div>
<div class="c" style="top:554.3px;left:118.8px;">Materials</div>
<div class="c" style="top:588.59px;left:118.8px;">Production expenses</div>
<div class="c b" style="top:691.46px;left:118.8px;">Total Cost of Sales</div>
<div class="c b" style="top:853.88px;left:118.8px;">Labor costs</div>
<div class="c" style="top:888.24px;left:118.8px;">CEO</div>
<div class="c" style="top:922.6px;left:118.8px;">CFO</div>
<div class="c" style="top:956.96px;left:118.8px;">VP Sales</div>
<div class="c" style="top:991.32px;left:118.8px;">Account Manager</div>
<div class="c" style="top:1025.68px;left:118.8px;">Project Manager</div>
<div class="c b" style="top:1060.04px;left:118.8px;">Total labor cost</div>
<div class="c b" style="top:314.27px;left:315.5px;width:95.1px;text-align:right;">Jan</div>
<div class="c b" style="top:314.27px;left:416.1px;width:95.9px;text-align:right;">Feb</div>
<div class="c b" style="top:314.27px;left:517.5px;width:96.3px;text-align:right;">Mar</div>
<div class="c b" style="top:314.27px;left:619.3px;width:95.9px;text-align:right;">Apr</div>
<div class="c b" style="top:314.27px;left:720.7px;width:95.6px;text-align:right;">May</div>
<div class="c b" style="top:314.27px;left:821.8px;width:95.7px;text-align:right;">Jun</div>
<div class="c b" style="top:314.27px;left:923px;width:96.1px;text-align:right;">Jul</div>
<div class="c b" style="top:314.27px;left:1024.6px;width:95.9px;text-align:right;">Aug</div>
<div class="c b" style="top:314.27px;left:1126px;width:95.9px;text-align:right;">Sep</div>
<div class="c b" style="top:314.27px;left:1227.4px;width:95.3px;text-align:right;">Oct</div>
<div class="c b" style="top:314.27px;left:1328.2px;width:95.9px;text-align:right;">Nov</div>
<div class="c b" style="top:314.27px;left:1429.6px;width:96.4px;text-align:right;">Dec</div>
<div class="c" style="top:348.56px;left:315.5px;width:95.1px;text-align:right;">$55,000</div>
<div class="c" style="top:348.56px;left:416.1px;width:95.9px;text-align:right;">$60,500</div>
<div class="c" style="top:348.56px;left:517.5px;width:96.3px;text-align:right;">$66,550</div>
<div class="c" style="top:348.56px;left:619.3px;width:95.9px;text-align:right;">$73,205</div>
<div class="c" style="top:348.56px;left:720.7px;width:95.6px;text-align:right;">$80,526</div>
<div class="c" style="top:348.56px;left:821.8px;width:95.7px;text-align:right;">$88,578</div>
<div class="c" style="top:348.56px;left:923px;width:96.1px;text-align:right;">$97,436</div>
<div class="c" style="top:348.56px;left:1024.6px;width:95.9px;text-align:right;">$107,179</div>
<div class="c" style="top:348.56px;left:1126px;width:95.9px;text-align:right;">$117,897</div>
<div class="c" style="top:348.56px;left:1227.4px;width:95.3px;text-align:right;">$129,687</div>
<div class="c" style="top:348.56px;left:1328.2px;width:95.9px;text-align:right;">$142,656</div>
<div class="c" style="top:348.56px;left:1429.6px;width:96.4px;text-align:right;">$156,921</div>
<div class="c" style="top:382.85px;left:315.5px;width:95.1px;text-align:right;">$16,500</div>
<div class="c" style="top:382.85px;left:416.1px;width:95.9px;text-align:right;">$18,150</div>
<div class="c" style="top:382.85px;left:517.5px;width:96.3px;text-align:right;">$19,965</div>
<div class="c" style="top:382.85px;left:619.3px;width:95.9px;text-align:right;">$21,962</div>
<div class="c" style="top:382.85px;left:720.7px;width:95.6px;text-align:right;">$24,158</div>
<div class="c" style="top:382.85px;left:821.8px;width:95.7px;text-align:right;">$26,573</div>
<div class="c" style="top:382.85px;left:923px;width:96.1px;text-align:right;">$29,231</div>
<div class="c" style="top:382.85px;left:1024.6px;width:95.9px;text-align:right;">$32,154</div>
<div class="c" style="top:382.85px;left:1126px;width:95.9px;text-align:right;">$35,369</div>
<div class="c" style="top:382.85px;left:1227.4px;width:95.3px;text-align:right;">$38,906</div>
<div class="c" style="top:382.85px;left:1328.2px;width:95.9px;text-align:right;">$42,797</div>
<div class="c" style="top:382.85px;left:1429.6px;width:96.4px;text-align:right;">$47,076</div>
<div class="c b" style="top:417.14px;left:315.5px;width:95.1px;text-align:right;">$71,500</div>
<div class="c b" style="top:417.14px;left:416.1px;width:95.9px;text-align:right;">$78,650</div>
<div class="c b" style="top:417.14px;left:517.5px;width:96.3px;text-align:right;">$86,515</div>
<div class="c b" style="top:417.14px;left:619.3px;width:95.9px;text-align:right;">$95,167</div>
<div class="c b" style="top:417.14px;left:720.7px;width:95.6px;text-align:right;">$104,683</div>
<div class="c b" style="top:417.14px;left:821.8px;width:95.7px;text-align:right;">$115,151</div>
<div class="c b" style="top:417.14px;left:923px;width:96.1px;text-align:right;">$126,667</div>
<div class="c b" style="top:417.14px;left:1024.6px;width:95.9px;text-align:right;">$139,333</div>
<div class="c b" style="top:417.14px;left:1126px;width:95.9px;text-align:right;">$153,267</div>
<div class="c b" style="top:417.14px;left:1227.4px;width:95.3px;text-align:right;">$168,593</div>
<div class="c b" style="top:417.14px;left:1328.2px;width:95.9px;text-align:right;">$185,453</div>
<div class="c b" style="top:417.14px;left:1429.6px;width:96.4px;text-align:right;">$203,998</div>
<div class="c" style="top:554.3px;left:315.5px;width:95.1px;text-align:right;">$15,000</div>
<div class="c" style="top:554.3px;left:416.1px;width:95.9px;text-align:right;">$16,500</div>
<div class="c" style="top:554.3px;left:517.5px;width:96.3px;text-align:right;">$18,150</div>
<div class="c" style="top:554.3px;left:619.3px;width:95.9px;text-align:right;">$19,965</div>
<div class="c" style="top:554.3px;left:720.7px;width:95.6px;text-align:right;">$21,962</div>
<div class="c" style="top:554.3px;left:821.8px;width:95.7px;text-align:right;">$24,158</div>
<div class="c" style="top:554.3px;left:923px;width:96.1px;text-align:right;">$26,573</div>
<div class="c" style="top:554.3px;left:1024.6px;width:95.9px;text-align:right;">$29,231</div>
<div class="c" style="top:554.3px;left:1126px;width:95.9px;text-align:right;">$32,154</div>
<div class="c" style="top:554.3px;left:1227.4px;width:95.3px;text-align:right;">$35,369</div>
<div class="c" style="top:554.3px;left:1328.2px;width:95.9px;text-align:right;">$38,906</div>
<div class="c" style="top:554.3px;left:1429.6px;width:96.4px;text-align:right;">$42,797</div>
<div class="c" style="top:588.59px;left:315.5px;width:95.1px;text-align:right;">$750</div>
<div class="c" style="top:588.59px;left:416.1px;width:95.9px;text-align:right;">$825</div>
<div class="c" style="top:588.59px;left:517.5px;width:96.3px;text-align:right;">$908</div>
<div class="c" style="top:588.59px;left:619.3px;width:95.9px;text-align:right;">$998</div>
<div class="c" style="top:588.59px;left:720.7px;width:95.6px;text-align:right;">$1,098</div>
<div class="c" style="top:588.59px;left:821.8px;width:95.7px;text-align:right;">$1,208</div>
<div class="c" style="top:588.59px;left:923px;width:96.1px;text-align:right;">$1,329</div>
<div class="c" style="top:588.59px;left:1024.6px;width:95.9px;text-align:right;">$1,462</div>
<div class="c" style="top:588.59px;left:1126px;width:95.9px;text-align:right;">$1,608</div>
<div class="c" style="top:588.59px;left:1227.4px;width:95.3px;text-align:right;">$1,768</div>
<div class="c" style="top:588.59px;left:1328.2px;width:95.9px;text-align:right;">$1,945</div>
<div class="c" style="top:588.59px;left:1429.6px;width:96.4px;text-align:right;">$2,140</div>
<div class="c b" style="top:622.88px;left:315.5px;width:95.1px;text-align:right;">$15,750</div>
<div class="c b" style="top:622.88px;left:416.1px;width:95.9px;text-align:right;">$17,325</div>
<div class="c b" style="top:622.88px;left:517.5px;width:96.3px;text-align:right;">$19,058</div>
<div class="c b" style="top:622.88px;left:619.3px;width:95.9px;text-align:right;">$20,963</div>
<div class="c b" style="top:622.88px;left:720.7px;width:95.6px;text-align:right;">$23,060</div>
<div class="c b" style="top:622.88px;left:821.8px;width:95.7px;text-align:right;">$25,366</div>
<div class="c b" style="top:622.88px;left:923px;width:96.1px;text-align:right;">$27,902</div>
<div class="c b" style="top:622.88px;left:1024.6px;width:95.9px;text-align:right;">$30,692</div>
<div class="c b" style="top:622.88px;left:1126px;width:95.9px;text-align:right;">$33,762</div>
<div class="c b" style="top:622.88px;left:1227.4px;width:95.3px;text-align:right;">$37,138</div>
<div class="c b" style="top:622.88px;left:1328.2px;width:95.9px;text-align:right;">$40,851</div>
<div class="c b" style="top:622.88px;left:1429.6px;width:96.4px;text-align:right;">$44,937</div>
<div class="c" style="top:691.46px;left:315.5px;width:95.1px;text-align:right;">$15,750</div>
<div class="c" style="top:691.46px;left:416.1px;width:95.9px;text-align:right;">$17,325</div>
<div class="c" style="top:691.46px;left:517.5px;width:96.3px;text-align:right;">$19,058</div>
<div class="c" style="top:691.46px;left:619.3px;width:95.9px;text-align:right;">$20,963</div>
<div class="c" style="top:691.46px;left:720.7px;width:95.6px;text-align:right;">$23,060</div>
<div class="c" style="top:691.46px;left:821.8px;width:95.7px;text-align:right;">$25,366</div>
<div class="c" style="top:691.46px;left:923px;width:96.1px;text-align:right;">$27,902</div>
<div class="c" style="top:691.46px;left:1024.6px;width:95.9px;text-align:right;">$30,692</div>
<div class="c" style="top:691.46px;left:1126px;width:95.9px;text-align:right;">$33,762</div>
<div class="c" style="top:691.46px;left:1227.4px;width:95.3px;text-align:right;">$37,138</div>
<div class="c" style="top:691.46px;left:1328.2px;width:95.9px;text-align:right;">$40,851</div>
<div class="c" style="top:691.46px;left:1429.6px;width:96.4px;text-align:right;">$44,937</div>
<div class="c" style="top:751.1px;left:315.5px;width:95.1px;text-align:right;">$55,750</div>
<div class="c" style="top:751.1px;left:416.1px;width:95.9px;text-align:right;">$61,325</div>
<div class="c" style="top:751.1px;left:517.5px;width:96.3px;text-align:right;">$67,458</div>
<div class="c" style="top:751.1px;left:619.3px;width:95.9px;text-align:right;">$74,203</div>
<div class="c" style="top:751.1px;left:720.7px;width:95.6px;text-align:right;">$81,624</div>
<div class="c" style="top:751.1px;left:821.8px;width:95.7px;text-align:right;">$89,786</div>
<div class="c" style="top:751.1px;left:923px;width:96.1px;text-align:right;">$98,765</div>
<div class="c" style="top:751.1px;left:1024.6px;width:95.9px;text-align:right;">$108,641</div>
<div class="c" style="top:751.1px;left:1126px;width:95.9px;text-align:right;">$119,505</div>
<div class="c" style="top:751.1px;left:1227.4px;width:95.3px;text-align:right;">$131,456</div>
<div class="c" style="top:751.1px;left:1328.2px;width:95.9px;text-align:right;">$144,601</div>
<div class="c" style="top:751.1px;left:1429.6px;width:96.4px;text-align:right;">$159,061</div>
<div class="c b" style="top:785.16px;left:315.5px;width:95.1px;text-align:right;">78.0%</div>
<div class="c b" style="top:785.16px;left:416.1px;width:95.9px;text-align:right;">78.0%</div>
<div class="c b" style="top:785.16px;left:517.5px;width:96.3px;text-align:right;">78.0%</div>
<div class="c b" style="top:785.16px;left:619.3px;width:95.9px;text-align:right;">78.0%</div>
<div class="c b" style="top:785.16px;left:720.7px;width:95.6px;text-align:right;">78.0%</div>
<div class="c b" style="top:785.16px;left:821.8px;width:95.7px;text-align:right;">78.0%</div>
<div class="c b" style="top:785.16px;left:923px;width:96.1px;text-align:right;">78.0%</div>
<div class="c b" style="top:785.16px;left:1024.6px;width:95.9px;text-align:right;">78.0%</div>
<div class="c b" style="top:785.16px;left:1126px;width:95.9px;text-align:right;">78.0%</div>
<div class="c b" style="top:785.16px;left:1227.4px;width:95.3px;text-align:right;">78.0%</div>
<div class="c b" style="top:785.16px;left:1328.2px;width:95.9px;text-align:right;">78.0%</div>
<div class="c b" style="top:785.16px;left:1429.6px;width:96.4px;text-align:right;">78.0%</div>
<div class="c" style="top:888.24px;left:315.5px;width:95.1px;text-align:right;">$20,000</div>
<div class="c" style="top:888.24px;left:416.1px;width:95.9px;text-align:right;">$20,000</div>
<div class="c" style="top:888.24px;left:517.5px;width:96.3px;text-align:right;">$20,000</div>
<div class="c" style="top:888.24px;left:619.3px;width:95.9px;text-align:right;">$20,000</div>
<div class="c" style="top:888.24px;left:720.7px;width:95.6px;text-align:right;">$20,000</div>
<div class="c" style="top:888.24px;left:821.8px;width:95.7px;text-align:right;">$20,000</div>
<div class="c" style="top:888.24px;left:923px;width:96.1px;text-align:right;">$20,000</div>
<div class="c" style="top:888.24px;left:1024.6px;width:95.9px;text-align:right;">$20,000</div>
<div class="c" style="top:888.24px;left:1126px;width:95.9px;text-align:right;">$20,000</div>
<div class="c" style="top:888.24px;left:1227.4px;width:95.3px;text-align:right;">$20,000</div>
<div class="c" style="top:888.24px;left:1328.2px;width:95.9px;text-align:right;">$20,000</div>
<div class="c" style="top:888.24px;left:1429.6px;width:96.4px;text-align:right;">$20,000</div>
<div class="c" style="top:922.6px;left:315.5px;width:95.1px;text-align:right;">$18,000</div>
<div class="c" style="top:922.6px;left:416.1px;width:95.9px;text-align:right;">$18,000</div>
<div class="c" style="top:922.6px;left:517.5px;width:96.3px;text-align:right;">$18,000</div>
<div class="c" style="top:922.6px;left:619.3px;width:95.9px;text-align:right;">$18,000</div>
<div class="c" style="top:922.6px;left:720.7px;width:95.6px;text-align:right;">$18,000</div>
<div class="c" style="top:922.6px;left:821.8px;width:95.7px;text-align:right;">$18,000</div>
<div class="c" style="top:922.6px;left:923px;width:96.1px;text-align:right;">$18,000</div>
<div class="c" style="top:922.6px;left:1024.6px;width:95.9px;text-align:right;">$18,000</div>
<div class="c" style="top:922.6px;left:1126px;width:95.9px;text-align:right;">$18,000</div>
<div class="c" style="top:922.6px;left:1227.4px;width:95.3px;text-align:right;">$18,000</div>
<div class="c" style="top:922.6px;left:1328.2px;width:95.9px;text-align:right;">$18,000</div>
<div class="c" style="top:922.6px;left:1429.6px;width:96.4px;text-align:right;">$18,000</div>
<div class="c" style="top:956.96px;left:315.5px;width:95.1px;text-align:right;">$18,000</div>
<div class="c" style="top:956.96px;left:416.1px;width:95.9px;text-align:right;">$18,000</div>
<div class="c" style="top:956.96px;left:517.5px;width:96.3px;text-align:right;">$18,000</div>
<div class="c" style="top:956.96px;left:619.3px;width:95.9px;text-align:right;">$18,000</div>
<div class="c" style="top:956.96px;left:720.7px;width:95.6px;text-align:right;">$18,000</div>
<div class="c" style="top:956.96px;left:821.8px;width:95.7px;text-align:right;">$18,000</div>
<div class="c" style="top:956.96px;left:923px;width:96.1px;text-align:right;">$18,000</div>
<div class="c" style="top:956.96px;left:1024.6px;width:95.9px;text-align:right;">$18,000</div>
<div class="c" style="top:956.96px;left:1126px;width:95.9px;text-align:right;">$18,000</div>
<div class="c" style="top:956.96px;left:1227.4px;width:95.3px;text-align:right;">$18,000</div>
<div class="c" style="top:956.96px;left:1328.2px;width:95.9px;text-align:right;">$18,000</div>
<div class="c" style="top:956.96px;left:1429.6px;width:96.4px;text-align:right;">$18,000</div>
<div class="c" style="top:991.32px;left:315.5px;width:95.1px;text-align:right;">$14,000</div>
<div class="c" style="top:991.32px;left:416.1px;width:95.9px;text-align:right;">$14,000</div>
<div class="c" style="top:991.32px;left:517.5px;width:96.3px;text-align:right;">$14,000</div>
<div class="c" style="top:991.32px;left:619.3px;width:95.9px;text-align:right;">$14,000</div>
<div class="c" style="top:991.32px;left:720.7px;width:95.6px;text-align:right;">$14,000</div>
<div class="c" style="top:991.32px;left:821.8px;width:95.7px;text-align:right;">$14,000</div>
<div class="c" style="top:991.32px;left:923px;width:96.1px;text-align:right;">$14,000</div>
<div class="c" style="top:991.32px;left:1024.6px;width:95.9px;text-align:right;">$14,000</div>
<div class="c" style="top:991.32px;left:1126px;width:95.9px;text-align:right;">$14,000</div>
<div class="c" style="top:991.32px;left:1227.4px;width:95.3px;text-align:right;">$14,000</div>
<div class="c" style="top:991.32px;left:1328.2px;width:95.9px;text-align:right;">$14,000</div>
<div class="c" style="top:991.32px;left:1429.6px;width:96.4px;text-align:right;">$14,000</div>
<div class="c" style="top:1025.68px;left:315.5px;width:95.1px;text-align:right;">$14,000</div>
<div class="c" style="top:1025.68px;left:416.1px;width:95.9px;text-align:right;">$14,000</div>
<div class="c" style="top:1025.68px;left:517.5px;width:96.3px;text-align:right;">$14,000</div>
<div class="c" style="top:1025.68px;left:619.3px;width:95.9px;text-align:right;">$14,000</div>
<div class="c" style="top:1025.68px;left:720.7px;width:95.6px;text-align:right;">$14,000</div>
<div class="c" style="top:1025.68px;left:821.8px;width:95.7px;text-align:right;">$14,000</div>
<div class="c" style="top:1025.68px;left:923px;width:96.1px;text-align:right;">$14,000</div>
<div class="c" style="top:1025.68px;left:1024.6px;width:95.9px;text-align:right;">$14,000</div>
<div class="c" style="top:1025.68px;left:1126px;width:95.9px;text-align:right;">$14,000</div>
<div class="c" style="top:1025.68px;left:1227.4px;width:95.3px;text-align:right;">$14,000</div>
<div class="c" style="top:1025.68px;left:1328.2px;width:95.9px;text-align:right;">$14,000</div>
<div class="c" style="top:1025.68px;left:1429.6px;width:96.4px;text-align:right;">$14,000</div>
<div class="c b" style="top:1060.04px;left:315.5px;width:95.1px;text-align:right;">$84,000</div>
<div class="c b" style="top:1060.04px;left:416.1px;width:95.9px;text-align:right;">$84,000</div>
<div class="c b" style="top:1060.04px;left:517.5px;width:96.3px;text-align:right;">$84,000</div>
<div class="c b" style="top:1060.04px;left:619.3px;width:95.9px;text-align:right;">$84,000</div>
<div class="c b" style="top:1060.04px;left:720.7px;width:95.6px;text-align:right;">$84,000</div>
<div class="c b" style="top:1060.04px;left:821.8px;width:95.7px;text-align:right;">$84,000</div>
<div class="c b" style="top:1060.04px;left:923px;width:96.1px;text-align:right;">$84,000</div>
<div class="c b" style="top:1060.04px;left:1024.6px;width:95.9px;text-align:right;">$84,000</div>
<div class="c b" style="top:1060.04px;left:1126px;width:95.9px;text-align:right;">$84,000</div>
<div class="c b" style="top:1060.04px;left:1227.4px;width:95.3px;text-align:right;">$84,000</div>
<div class="c b" style="top:1060.04px;left:1328.2px;width:95.9px;text-align:right;">$84,000</div>
<div class="c b" style="top:1060.04px;left:1429.6px;width:96.4px;text-align:right;">$84,000</div>
<div class="c" style="top:1094.4px;left:315.5px;width:95.1px;text-align:right;">117.5%</div>
<div class="c" style="top:1094.4px;left:416.1px;width:95.9px;text-align:right;">106.8%</div>
<div class="c" style="top:1094.4px;left:517.5px;width:96.3px;text-align:right;">97.1%</div>
<div class="c" style="top:1094.4px;left:619.3px;width:95.9px;text-align:right;">88.3%</div>
<div class="c" style="top:1094.4px;left:720.7px;width:95.6px;text-align:right;">80.2%</div>
<div class="c" style="top:1094.4px;left:821.8px;width:95.7px;text-align:right;">72.9%</div>
<div class="c" style="top:1094.4px;left:923px;width:96.1px;text-align:right;">66.3%</div>
<div class="c" style="top:1094.4px;left:1024.6px;width:95.9px;text-align:right;">60.3%</div>
<div class="c" style="top:1094.4px;left:1126px;width:95.9px;text-align:right;">54.8%</div>
<div class="c" style="top:1094.4px;left:1227.4px;width:95.3px;text-align:right;">49.8%</div>
<div class="c" style="top:1094.4px;left:1328.2px;width:95.9px;text-align:right;">45.3%</div>
<div class="c" style="top:1094.4px;left:1429.6px;width:96.4px;text-align:right;">41.2%</div>
<div class="c b" style="top:314.27px;left:1531.5px;width:184.4px;text-align:right;">Total 12mths</div>
<div class="c" style="top:348.56px;left:1531.5px;width:184.4px;text-align:right;">$1,176,136</div>
<div class="c" style="top:382.85px;left:1531.5px;width:184.4px;text-align:right;">$352,841</div>
<div class="c b" style="top:417.14px;left:1531.5px;width:184.4px;text-align:right;color:#118a1d;">$1,528,976</div>
<div class="c" style="top:554.3px;left:1531.5px;width:184.4px;text-align:right;">$320,764</div>
<div class="c" style="top:588.59px;left:1531.5px;width:184.4px;text-align:right;">$16,038</div>
<div class="c b" style="top:622.88px;left:1531.5px;width:184.4px;text-align:right;color:#d8121b;">$336,802</div>
<div class="c b" style="top:1060.04px;left:1531.5px;width:184.4px;text-align:right;">$1,008,000</div>
<div class="c b" style="left:118.8px;top:725.66px;line-height:24.200px;white-space:normal;width:195px">Gross profit before labor</div>
<svg style="left:0;top:0" width="1900" height="1194" viewBox="0 0 1900 1194"><rect x="317.5" y="719.46" width="1212.5" height="54.44" fill="none" stroke="#fdebe6" stroke-width="3.400"/><rect x="317.5" y="719.46" width="1212.5" height="54.44" fill="none" stroke="#f266a8" stroke-width="3.400" stroke-dasharray="3.150 3.150"/><rect x="1532.2" y="718.56" width="247.6" height="57.64" fill="#fff" stroke="#1a73e8" stroke-width="2.500"/></svg>
<div class="t mono" style="left:1538.2px;top:721.96px;font-size:18.900px;line-height:20px;color:#444">=SUM<span style="background:#eee">(</span><span style="color:#f48fb6">B15:M15</span><span style="background:#eee">)</span></div>
<div class="a" style="left:1886px;top:196px;width:11px;height:925px;background:#fff;"></div>
<div class="a" style="left:1897px;top:196px;width:3px;height:995px;background:#c9c9c9;"></div>
<div class="a" style="left:1886px;top:196px;width:14px;height:339px;background:#cacaca;"></div>
<div class="a" style="left:1885.5px;top:196px;width:1.5px;height:339.5px;background:#9a9a9a;"></div>
<div class="a" style="left:1886px;top:534.5px;width:11px;height:1px;background:#b9b9b9;"></div>
<div class="a" style="left:3px;top:1120.3px;width:1894px;height:16.7px;background:#fff;"></div>
<div class="a" style="left:3px;top:1119.8px;width:1883px;height:1.5px;background:#c6c6c6;"></div>
<div class="a" style="left:3px;top:1121.5px;width:691px;height:15px;background:#c6c6c6;"></div>
<div class="a" style="left:3px;top:1121px;width:691px;height:1px;background:#b0b0b0;"></div>
<div class="a" style="left:1884.5px;top:1121px;width:2px;height:16px;background:#d9d9d9;"></div>
<div class="a" style="left:1887px;top:1122px;width:9px;height:15px;background:#f1f1f1;"></div>
<div class="a" style="left:1887px;top:1121.5px;width:9px;height:1.5px;background:#dcdcdc;"></div>
<div class="a" style="left:1379px;top:783px;width:518px;height:279px;background:#fff;box-shadow:0 2px 7px rgba(0,0,0,0.280)"></div>
<div class="a" style="left:1379px;top:783px;width:518px;height:29px;background:#f7f7f7;border-bottom:1px solid #e0e0e0"></div>
<div class="t mono" style="left:1396px;top:788px;font-size:19.300px;line-height:20px;color:#8f8f8f">SUM(<span style="background:#fde9d6">value1</span>, [value2, ...])</div>
<svg style="left:1881px;top:794px" width="14" height="9" viewBox="0 0 14 9"><path d="M1.500 7.500L7 2l5.500 5.500" fill="none" stroke="#222" stroke-width="2.900"/></svg>
<div class="t" style="left:1396px;top:820px;font-size:16.4px;line-height:20px;color:#4a4a4a;">Example</div>
<div class="t mono" style="left:1396px;top:844px;font-size:19.1px;line-height:20px;color:#9a9a9a;">SUM(<span style="background:#fde4d3">A2:A100</span>, 101)</div>
<div class="t" style="left:1396px;top:875px;font-size:16.4px;line-height:20px;color:#4a4a4a;">Summary</div>
<div class="t" style="left:1396px;top:897px;font-size:16.4px;line-height:20px;color:#4a4a4a;">Returns the sum of a series of numbers and/or cells.</div>
<div class="a" style="left:1396px;top:925px;width:330px;height:23px;background:linear-gradient(90deg,#e1f3ed 0%,#eef8f5 55%,#ffffff 100%)"></div>
<div class="t mono" style="left:1396px;top:927px;font-size:16px;line-height:20px;color:#9a9a9a;">value1</div>
<div class="t" style="left:1396px;top:948px;font-size:16.4px;line-height:20px;color:#4a4a4a;">The first number or range to add.</div>
<div class="t mono" style="left:1396px;top:979px;font-size:16.3px;line-height:20px;color:#9a9a9a;">value2, ... -optional, repeatable</div>
<div class="t" style="left:1396px;top:1001px;font-size:16.4px;line-height:20px;color:#4a4a4a;">Additional numbers or ranges to calculate for the sum.</div>
<div class="t" style="left:1396px;top:1032px;font-size:17.9px;line-height:20px;color:#1570ef;">Learn more</div>
<svg style="left:1492px;top:1033px" width="19" height="19" viewBox="0 0 19 19" fill="none" stroke="#1570ef" stroke-width="2.500">
<path d="M14.500 10.500v5.500a1.500 1.500 0 0 1-1.500 1.500H3a1.500 1.500 0 0 1-1.500-1.500V6A1.500 1.500 0 0 1 3 4.500h5.500"/><path d="M11.500 1.500h6v6M17.500 1.500L8.500 10.500"/></svg>
<svg style="left:1380px;top:933px" width="6" height="9" viewBox="0 0 6 9"><path d="M0.500 0.500L5.500 4.500 0.500 8.500z" fill="#555"/></svg>
<div class="a" style="left:3px;top:1137px;width:1894px;height:54px;background:#e2f1fd"></div>
<div class="a" style="left:123px;top:1137px;width:120px;height:54px;background:#fff"></div>
<div class="a" style="left:363px;top:1137px;width:1px;height:54px;background:#d7e9f8"></div>
<div class="a" style="left:483px;top:1137px;width:1px;height:54px;background:#d7e9f8"></div>
<div class="a" style="left:634px;top:1137px;width:1px;height:54px;background:#d7e9f8"></div>
<svg style="left:28.800px;top:1156.500px" width="17.500" height="16" viewBox="0 0 17.500 16"><g fill="#2b2b2b"><rect y="0" width="17.500" height="2.800"/><rect y="6.500" width="17.500" height="2.800"/><rect y="13" width="17.500" height="2.800"/></g></svg>
<svg style="left:76px;top:1156.500px" width="16.500" height="16.500" viewBox="0 0 16.500 16.500"><path d="M8.250 0v16.500M0 8.250h16.500" stroke="#2b2b2b" stroke-width="2.800" fill="none"/></svg>
<div class="tab" style="left:138px;color:#0b6cf5">Year 1</div>
<svg style="left:215px;top:1161.500px" width="10.500" height="6.500" viewBox="0 0 12 8"><path d="M0.300 0.500h11.400L6 7.500z" fill="#0b6cf5"/></svg>
<div class="tab" style="left:258px;color:#646b75">Year 2</div>
<svg style="left:335px;top:1161.500px" width="10.500" height="6.500" viewBox="0 0 12 8"><path d="M0.300 0.500h11.400L6 7.500z" fill="#646b75"/></svg>
<div class="tab" style="left:379px;color:#646b75">Year 3</div>
<svg style="left:456px;top:1161.500px" width="10.500" height="6.500" viewBox="0 0 12 8"><path d="M0.300 0.500h11.400L6 7.500z" fill="#646b75"/></svg>
<div class="tab" style="left:500px;color:#646b75">Cashflow</div>
<svg style="left:607px;top:1161.500px" width="10.500" height="6.500" viewBox="0 0 12 8"><path d="M0.300 0.500h11.400L6 7.500z" fill="#646b75"/></svg>
</body></html>
